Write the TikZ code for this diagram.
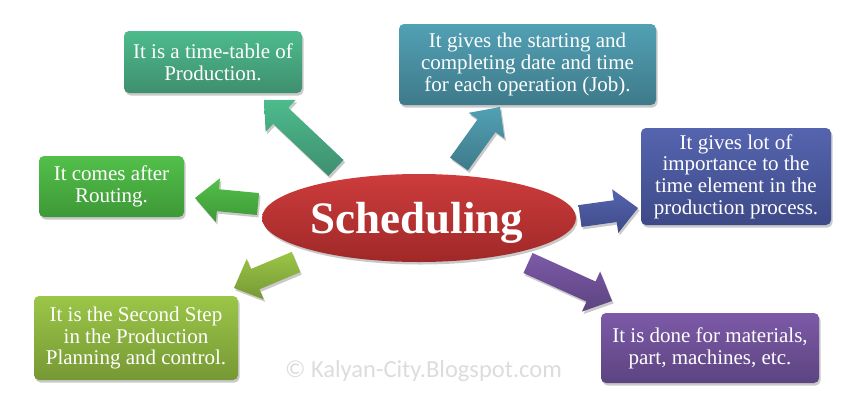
\documentclass[tikz,border=0pt]{standalone}
\usepackage{fontspec}
\setmainfont{Liberation Serif}
\newfontfamily\wmfont{Carlito}
\usetikzlibrary{calc,shadows,shapes.geometric}

\definecolor{gA}{HTML}{4DBB8C}\definecolor{gAd}{HTML}{3E8F6F}
\definecolor{bA}{HTML}{52A0B4}\definecolor{bAd}{HTML}{3E7A8A}
\definecolor{gB}{HTML}{52C04A}\definecolor{gBd}{HTML}{3E9837}
\definecolor{pA}{HTML}{5564AF}\definecolor{pAd}{HTML}{3E4A87}
\definecolor{lA}{HTML}{9BC648}\definecolor{lAd}{HTML}{769834}
\definecolor{vA}{HTML}{7D5AA8}\definecolor{vAd}{HTML}{5C4480}
\definecolor{rA}{HTML}{CD3C3C}\definecolor{rAd}{HTML}{A02828}
\definecolor{wmgray}{HTML}{DCDCDC}

\newcommand\blkarrow[4]{%
  \coordinate (#1b) at ($(#2)!23pt!(#1)$);
  \path[arrowbody, top color=#3, bottom color=#4]
    ($(#1)!11pt!90:(#2)$) -- ($(#1b)!11pt!90:(#2)$) -- ($(#1b)!22pt!90:(#2)$) -- (#2)
    -- ($(#1b)!22pt!-90:(#2)$) -- ($(#1b)!11pt!-90:(#2)$) -- ($(#1)!11pt!-90:(#2)$) -- cycle;
}

\begin{document}
\begin{tikzpicture}[x=1pt,y=-1pt,
  softshadow/.style={drop shadow={shadow xshift=1.5pt, shadow yshift=-2.5pt, opacity=0.3, fill=black!70}},
  infobox/.style={rectangle, rounded corners=5pt, text=white, align=center,
    font=\fontsize{21}{21.7}\selectfont, inner sep=0pt, softshadow},
  arrowbody/.style={softshadow},
  hub/.style={ellipse, inner sep=0pt, softshadow},
  hubtext/.style={text=white, font=\fontsize{45}{50}\selectfont\bfseries, inner sep=0pt},
  watermark/.style={text=wmgray, font=\wmfont\fontsize{24.5}{28}\selectfont, inner sep=0pt}]
\useasboundingbox (0,0) rectangle (866,418);

% arrows
\coordinate (t1) at (336,168); \coordinate (h1) at (264,100);
\coordinate (t2) at (459,164); \coordinate (h2) at (500,107);
\coordinate (t3) at (258,204); \coordinate (h3) at (195,198);
\coordinate (t4) at (580,216); \coordinate (h4) at (638,208);
\coordinate (t5) at (296,262); \coordinate (h5) at (234,288);
\coordinate (t6) at (528,263); \coordinate (h6) at (612,301);

\blkarrow{t1}{h1}{gA}{gAd}
\blkarrow{t2}{h2}{bA}{bAd}
\blkarrow{t3}{h3}{gB}{gBd}
\blkarrow{t4}{h4}{pA}{pAd}
\blkarrow{t5}{h5}{lA}{lAd}
\blkarrow{t6}{h6}{vA}{vAd}

% hub
\node[hub, top color=rA, bottom color=rAd, minimum width=314pt, minimum height=88pt] (hub) at (419,218) {};
\node[hubtext, anchor=base] (hubtext) at (417,233) {Scheduling};

% boxes
\node[infobox, top color=gA, bottom color=gAd, minimum width=178pt, minimum height=62pt] (b1) at (213,62)
  {It is a time-table of\\Production.};
\node[infobox, top color=bA, bottom color=bAd, minimum width=257pt, minimum height=81pt] (b2) at (527.5,64.5)
  {It gives the starting and\\completing date and time\\for each operation (Job).};
\node[infobox, top color=gB, bottom color=gBd, minimum width=145pt, minimum height=61pt] (b3) at (111.5,186.5)
  {It comes after\\Routing.};
\node[infobox, top color=pA, bottom color=pAd, minimum width=190pt, minimum height=97pt] (b4) at (736,176.5)
  {It gives lot of\\importance to the\\time element in the\\production process.};
\node[infobox, top color=lA, bottom color=lAd, minimum width=204pt, minimum height=84pt] (b5) at (136,338)
  {It is the Second Step\\in the Production\\Planning and control.};
\node[infobox, top color=vA, bottom color=vAd, minimum width=218pt, minimum height=70pt] (b6) at (710,348)
  {It is done for materials,\\part, machines, etc.};

% watermark
\node[watermark, anchor=base] (wm) at (423.5,377) {© Kalyan-City.Blogspot.com};
\end{tikzpicture}
\end{document}
